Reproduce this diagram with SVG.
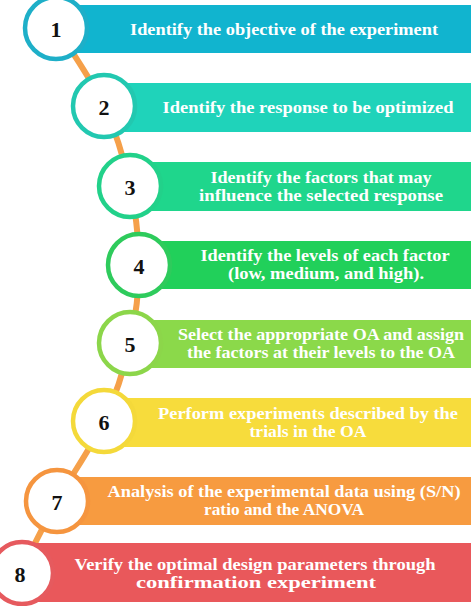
<svg xmlns="http://www.w3.org/2000/svg" width="474" height="606" viewBox="0 0 474 606">
<style>
.bar-text{font-family:"Liberation Serif","Times New Roman",serif;font-weight:bold;font-size:16.5px;fill:#ffffff;text-anchor:middle}
.num{font-family:"Liberation Serif","Times New Roman",serif;font-weight:bold;font-size:22px;fill:#111111;text-anchor:middle;dominant-baseline:central}
.ring{fill:#ffffff;stroke-width:4.5}
</style>
<rect width="474" height="606" fill="#ffffff"/>
<g id="connectors">
<path d="M57,28 C72.7,54 91.8,79.7 104,106 C116.2,132.3 124.2,159.5 130,186 C135.8,212.5 139,238.8 139,265 C139,291.2 135.8,317 130,343 C124.2,369 116.2,394.7 104,421 C91.8,447.3 71,475.7 57,501 C43,526.3 32.3,549 20,573" fill="none" stroke="#f5a04a" stroke-width="6"/>
</g>
<g id="step1">
<rect x="57" y="5" width="414" height="48" fill="#11b4cf"/>
<circle class="ring" cx="56" cy="28" r="31" stroke="#1eafc8"/>
<text class="num" x="56" y="29">1</text>
<text class="bar-text" x="284" y="35" textLength="308" lengthAdjust="spacingAndGlyphs">Identify the objective of the experiment</text>
</g>
<g id="step2">
<rect x="104" y="83" width="367" height="49" fill="#1fd3ba"/>
<circle class="ring" cx="104" cy="106" r="31" stroke="#22c8b0"/>
<text class="num" x="104" y="107">2</text>
<text class="bar-text" x="308" y="113" textLength="291" lengthAdjust="spacingAndGlyphs">Identify the response to be optimized</text>
</g>
<g id="step3">
<rect x="130" y="162" width="341" height="49" fill="#1fd68c"/>
<circle class="ring" cx="130" cy="186" r="31" stroke="#22d18a"/>
<text class="num" x="130" y="187">3</text>
<text class="bar-text" x="321" y="182.5" textLength="221" lengthAdjust="spacingAndGlyphs">Identify the factors that may</text>
<text class="bar-text" x="321" y="200.5" textLength="244" lengthAdjust="spacingAndGlyphs">influence the selected response</text>
</g>
<g id="step4">
<rect x="139" y="241" width="332" height="48" fill="#21d05a"/>
<circle class="ring" cx="139" cy="265" r="31" stroke="#2ecb5c"/>
<text class="num" x="139" y="266">4</text>
<text class="bar-text" x="325" y="261" textLength="249" lengthAdjust="spacingAndGlyphs">Identify the levels of each factor</text>
<text class="bar-text" x="326" y="279" textLength="196" lengthAdjust="spacingAndGlyphs">(low, medium, and high).</text>
</g>
<g id="step5">
<rect x="130" y="320" width="341" height="48" fill="#8bd94a"/>
<circle class="ring" cx="130" cy="343" r="31" stroke="#8cd64a"/>
<text class="num" x="130" y="344">5</text>
<text class="bar-text" x="321" y="339.5" textLength="286" lengthAdjust="spacingAndGlyphs">Select the appropriate OA and assign</text>
<text class="bar-text" x="321" y="357.5" textLength="268" lengthAdjust="spacingAndGlyphs">the factors at their levels to the OA</text>
</g>
<g id="step6">
<rect x="104" y="398" width="367" height="49" fill="#f7dc3c"/>
<circle class="ring" cx="104" cy="421" r="31" stroke="#f4d93a"/>
<text class="num" x="104" y="422">6</text>
<text class="bar-text" x="308" y="418.5" textLength="300" lengthAdjust="spacingAndGlyphs">Perform experiments described by the</text>
<text class="bar-text" x="308" y="436.5" textLength="117" lengthAdjust="spacingAndGlyphs">trials in the OA</text>
</g>
<g id="step7">
<rect x="57" y="477" width="414" height="48" fill="#f79b40"/>
<circle class="ring" cx="57" cy="501" r="31" stroke="#f5953f"/>
<text class="num" x="57" y="502">7</text>
<text class="bar-text" x="284" y="496.5" textLength="353" lengthAdjust="spacingAndGlyphs">Analysis of the experimental data using (S/N)</text>
<text class="bar-text" x="284" y="514.5" textLength="160" lengthAdjust="spacingAndGlyphs">ratio and the ANOVA</text>
</g>
<g id="step8">
<rect x="22" y="543" width="449" height="59" fill="#e9585b"/>
<circle class="ring" cx="22" cy="573" r="31" stroke="#e65a5e"/>
<text class="num" x="20" y="574">8</text>
<text class="bar-text" x="255" y="569.5" textLength="361" lengthAdjust="spacingAndGlyphs">Verify the optimal design parameters through</text>
<text class="bar-text" x="256" y="588" textLength="240" lengthAdjust="spacingAndGlyphs">confirmation experiment</text>
</g>
</svg>
